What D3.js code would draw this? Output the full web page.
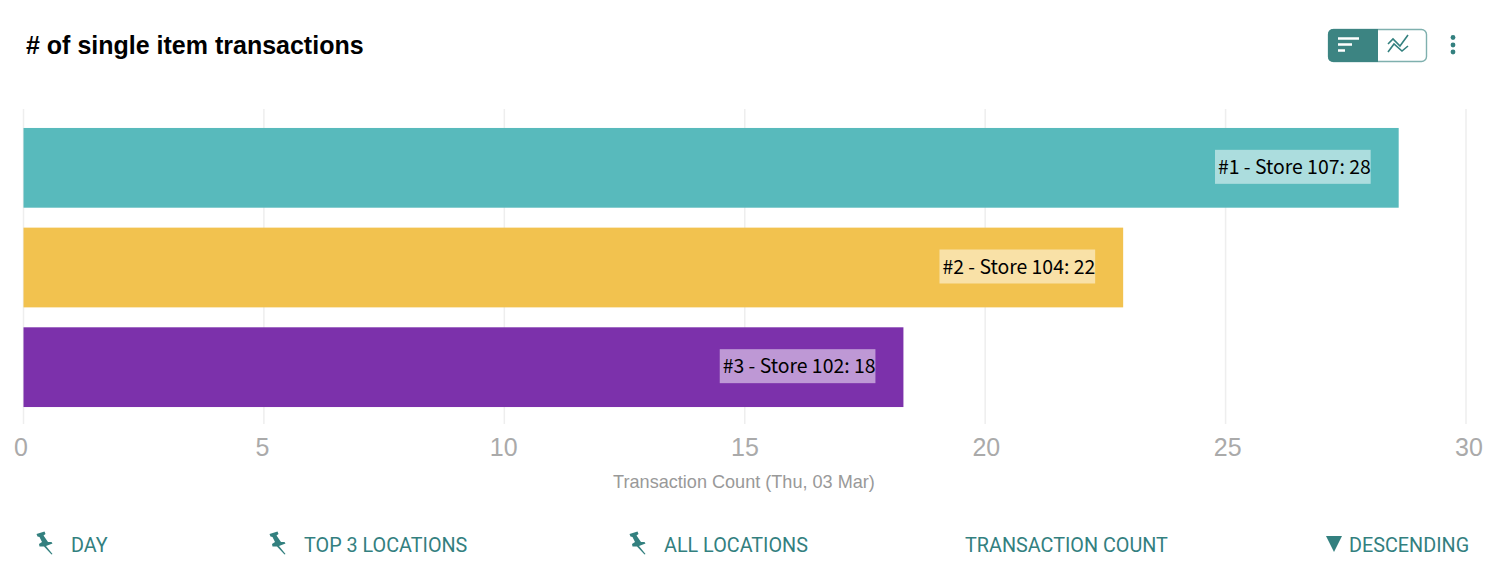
<!DOCTYPE html>
<html>
<head>
<meta charset="utf-8">
<script src="https://cdn.jsdelivr.net/npm/d3@7"></script>
<style>
  html, body { margin: 0; padding: 0; background: #fff; overflow: hidden; }
</style>
</head>
<body>
<svg id="chart"></svg>
<script>
const stores = ["#1 - Store 107: 28", "#2 - Store 104: 22", "#3 - Store 102: 18"];
// bars run a little past the number in their label in the original
const barValues = [28.6, 22.87, 18.3];
const barColors = ["#58babc", "#f2c24f", "#7c31ab"];
const tickValues = [0, 5, 10, 15, 20, 25, 30];
const pinned = [
  { label: "DAY", x: 71, pin: 45 },
  { label: "TOP 3 LOCATIONS", x: 304, pin: 278 },
  { label: "ALL LOCATIONS", x: 664, pin: 638 },
  { label: "TRANSACTION COUNT", x: 965 },
  { label: "DESCENDING", x: 1349, arrow: 1334 }
];

const teal = "#33807f";
const width = 1500;
const height = 587;

const svg = d3.select("#chart")
    .attr("width", width)
    .attr("height", height);

const x = d3.scaleLinear().domain([0, 30]).range([23.5, 1466]);
// tick labels sit slightly wider than the grid in the original
const xLabels = d3.scaleLinear().domain([0, 30]).range([20.5, 1468.5]);
const y = d3.scaleBand().domain(stores).range([118, 417]).paddingInner(0.2).paddingOuter(0.1);

svg.append("text")
    .attr("x", 26)
    .attr("y", 54)
    .attr("font-family", "Liberation Sans")
    .attr("font-weight", "bold")
    .attr("font-size", 25)
    .attr("fill", "#000")
    .text("# of single item transactions");

// grid lines
svg.append("g")
    .selectAll("line")
    .data(tickValues)
    .join("line")
        .attr("x1", d => x(d))
        .attr("x2", d => x(d))
        .attr("y1", 109)
        .attr("y2", 424)
        .attr("stroke", "#eeeeee")
        .attr("stroke-width", 1.5);

// bars
svg.append("g")
    .selectAll("rect")
    .data(stores)
    .join("rect")
        .attr("x", x(0))
        .attr("y", d => y(d))
        .attr("width", (d, i) => x(barValues[i]) - x(0))
        .attr("height", y.bandwidth())
        .attr("fill", (d, i) => barColors[i]);

// labels with a half transparent white box behind them
const labels = svg.append("g")
    .selectAll("g")
    .data(stores)
    .join("g");

labels.append("text")
    .attr("x", (d, i) => x(barValues[i]) - 28)
    .attr("y", d => y(d) + y.bandwidth() / 2 + 6)
    .attr("text-anchor", "end")
    .attr("font-family", "Noto Sans CJK SC")
    .attr("font-size", 19.4)
    .attr("fill", "#000")
    .text(d => d);

labels.each(function(d) {
    const g = d3.select(this);
    const box = g.select("text").node().getBBox();
    g.insert("rect", "text")
        .attr("x", box.x - 3)
        .attr("y", y(d) + y.bandwidth() / 2 - 18)
        .attr("width", box.width + 3)
        .attr("height", 34)
        .attr("fill", "#fff")
        .attr("fill-opacity", 0.5);
});

// axis
const axis = svg.append("g")
    .attr("transform", "translate(0,456)")
    .call(d3.axisBottom(xLabels).tickValues(tickValues).tickSize(0).tickPadding(0));
axis.select(".domain").remove();
axis.selectAll("text")
    .attr("font-family", "Liberation Sans")
    .attr("font-size", 25)
    .attr("fill", "#aaaaaa")
    .attr("dy", 0)
    .attr("y", 0);

svg.append("text")
    .attr("x", 744)
    .attr("y", 488)
    .attr("text-anchor", "middle")
    .attr("font-family", "Liberation Sans")
    .attr("font-size", 18.1)
    .attr("fill", "#999999")
    .text("Transaction Count (Thu, 03 Mar)");

// bottom row
svg.append("g")
    .selectAll("text")
    .data(pinned)
    .join("text")
        .attr("x", d => d.x)
        .attr("y", 552)
        .attr("font-family", "Roboto")
        .attr("font-size", 19.8)
        .attr("fill", teal)
        .text(d => d.label);

const pinPath = "M-8.5,-7 L-0.5,-9.5 L0.5,-7 L-1.5,-5.5 L3,1 L6.5,1 L7.5,2.5 L1,5 L7.5,13 L6.5,13.5 L-1,5.5 L-5.5,5.5 L-6,3 L-3,1 L-5.5,-4 L-7.5,-4.5 Z";
svg.append("g")
    .selectAll("path")
    .data(pinned.filter(d => d.pin))
    .join("path")
        .attr("d", pinPath)
        .attr("transform", d => `translate(${d.pin},541)`)
        .attr("fill", teal);

svg.append("g")
    .selectAll("path")
    .data(pinned.filter(d => d.arrow))
    .join("path")
        .attr("d", d => `M${d.arrow - 8},536 h16 l-8,16 Z`)
        .attr("fill", teal);

// chart type toggle
const toggle = svg.append("g");
toggle.append("rect")
    .attr("x", 1328.5).attr("y", 29.5).attr("width", 98).attr("height", 32).attr("rx", 5)
    .attr("fill", "#fff").attr("stroke", "#7fb0ae").attr("stroke-width", 1.4);
toggle.append("path")
    .attr("d", "M1378,29 H1333 a5,5 0 0 0 -5,5 V57 a5,5 0 0 0 5,5 H1378 Z")
    .attr("fill", "#3c8482");
toggle.append("path")
    .attr("d", "M1338,38.5 H1359 M1338,44.5 H1352 M1338,50.5 H1345")
    .attr("stroke", "#fff").attr("stroke-width", 2.4).attr("fill", "none");
toggle.append("path")
    .attr("d", "M1388,44 L1393,39 L1400,46 L1408,35 M1388,52 L1394,44 L1402,51 L1408,46")
    .attr("stroke", teal).attr("stroke-width", 1.6).attr("fill", "none");

// more menu
svg.append("g")
    .selectAll("circle")
    .data([37.5, 45, 52])
    .join("circle")
        .attr("cx", 1453)
        .attr("cy", d => d)
        .attr("r", 2.4)
        .attr("fill", teal);
</script>
</body>
</html>
